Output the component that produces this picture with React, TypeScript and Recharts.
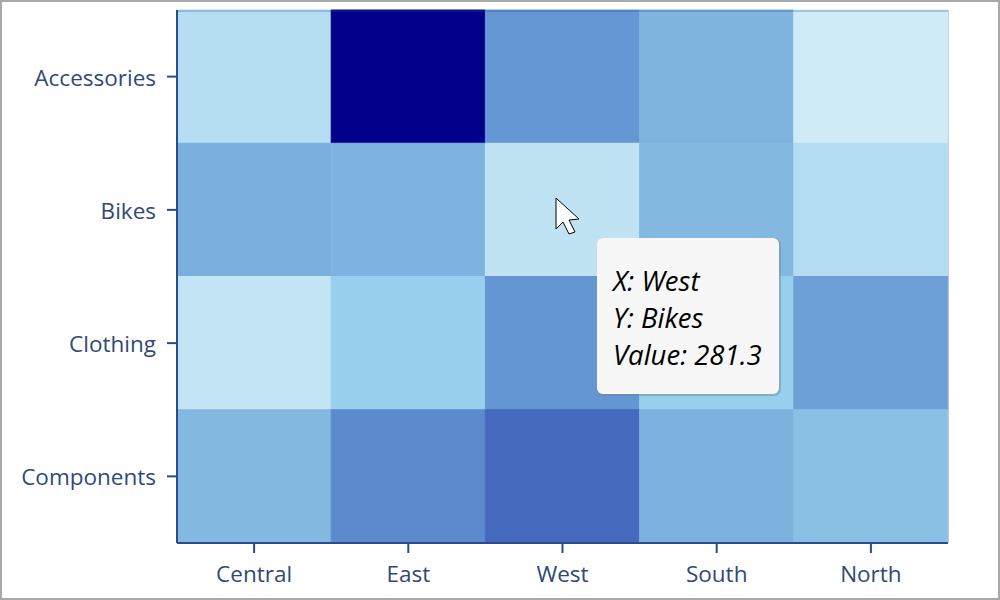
import { BarChart, Bar, Cell, XAxis, YAxis, Tooltip } from 'recharts'

const regions = ['Central', 'East', 'West', 'South', 'North']
const products = ['Accessories', 'Bikes', 'Clothing', 'Components']

const accessories = [304, 1000, 472, 416, 250]
const bikes = [424, 418, 281.3, 408, 310]
const clothing = [277, 364, 474, 364, 455]
const components = [408, 490, 536, 422, 392]

const heat: Record<string, number[]> = {
  Accessories: accessories,
  Bikes: bikes,
  Clothing: clothing,
  Components: components,
}

const colorStops: [number, number[]][] = [
  [250, [207, 235, 247]],
  [364, [152, 207, 236]],
  [416, [127, 180, 223]],
  [474, [99, 150, 211]],
  [536, [69, 105, 188]],
  [1000, [0, 0, 139]],
]

function heatColor(value: number) {
  for (let i = 1; i < colorStops.length; i++) {
    const [v0, c0] = colorStops[i - 1]
    const [v1, c1] = colorStops[i]
    if (value <= v1) {
      const t = (value - v0) / (v1 - v0)
      const rgb = c0.map((c, k) => Math.round(c + (c1[k] - c) * t))
      return `rgb(${rgb.join(',')})`
    }
  }
  return 'rgb(0,0,139)'
}

// every row has the same height, the colour carries the value
const data = regions.map((region) => ({
  region,
  Accessories: 1,
  Bikes: 1,
  Clothing: 1,
  Components: 1,
}))

const axisColor = '#2a4c8c'
const labelColor = '#304a78'
const fontFamily = '"Open Sans", sans-serif'

function HoverBox({ payload, label }: any) {
  if (!payload || !payload.length) return null
  const regionIndex = regions.indexOf(label)
  const product = 'Bikes'
  return (
    <div
      style={{
        width: 182,
        height: 156,
        boxSizing: 'border-box',
        padding: '24px 0 0 16px',
        background: '#f7f7f7',
        borderRadius: 6,
        boxShadow: '1px 1px 0 1px rgba(120,130,140,0.45)',
        fontFamily,
        fontStyle: 'italic',
        fontSize: 27.5,
        lineHeight: '37px',
        color: '#000',
        whiteSpace: 'nowrap',
      }}
    >
      <div>X: {label}</div>
      <div>Y: {product}</div>
      <div>Value: {heat[product][regionIndex]}</div>
    </div>
  )
}

export default function App() {
  return (
    <div
      style={{
        position: 'absolute',
        left: 0,
        top: 0,
        width: 1000,
        height: 600,
        background: '#fff',
        outline: '2px solid #a9a9a9',
        outlineOffset: -2,
      }}
    >
      <BarChart
        width={1000}
        height={600}
        data={data}
        barCategoryGap={0}
        margin={{ top: 10, right: 52, bottom: 0, left: 0 }}
      >
        <XAxis
          dataKey="region"
          height={57}
          interval={0}
          tickSize={10}
          tickMargin={13}
          axisLine={{ stroke: axisColor, strokeWidth: 2 }}
          tickLine={{ stroke: axisColor, strokeWidth: 2 }}
          tick={{ fill: labelColor, fontSize: 22.5, fontFamily }}
        />
        <YAxis
          type="number"
          width={177}
          reversed
          domain={[0, 4]}
          ticks={[0.5, 1.5, 2.5, 3.5]}
          tickFormatter={(v: number) => products[Math.floor(v)]}
          tickSize={10}
          tickMargin={11}
          axisLine={{ stroke: axisColor, strokeWidth: 2 }}
          tickLine={{ stroke: axisColor, strokeWidth: 2 }}
          tick={{ fill: labelColor, fontSize: 22.5, fontFamily, dy: 1 }}
        />
        {products.map((product) => (
          <Bar key={product} dataKey={product} stackId="heat" isAnimationActive={false}>
            {heat[product].map((value, i) => (
              <Cell key={regions[i]} fill={heatColor(value)} stroke={heatColor(value)} strokeWidth={1} />
            ))}
          </Bar>
        ))}
        <Tooltip
          active
          defaultIndex={2}
          cursor={false}
          isAnimationActive={false}
          position={{ x: 597, y: 238 }}
          content={<HoverBox />}
        />
      </BarChart>
      {/* faint frame on the open sides of the plot */}
      <div
        style={{
          position: 'absolute',
          left: 178,
          top: 10,
          width: 771,
          height: 532,
          borderTop: '2px solid rgba(42,76,140,0.25)',
          borderRight: '1px solid rgba(42,76,140,0.22)',
          boxSizing: 'border-box',
          pointerEvents: 'none',
        }}
      />
      <svg
        width={30}
        height={42}
        style={{ position: 'absolute', left: 553, top: 195, pointerEvents: 'none' }}
      >
        <path
          d="M3 3 L3 34 L10 27 L16 39 L22 37 L16 25 L26 24 Z"
          fill="#fff"
          stroke="#000"
          strokeWidth={1}
        />
      </svg>
    </div>
  )
}
